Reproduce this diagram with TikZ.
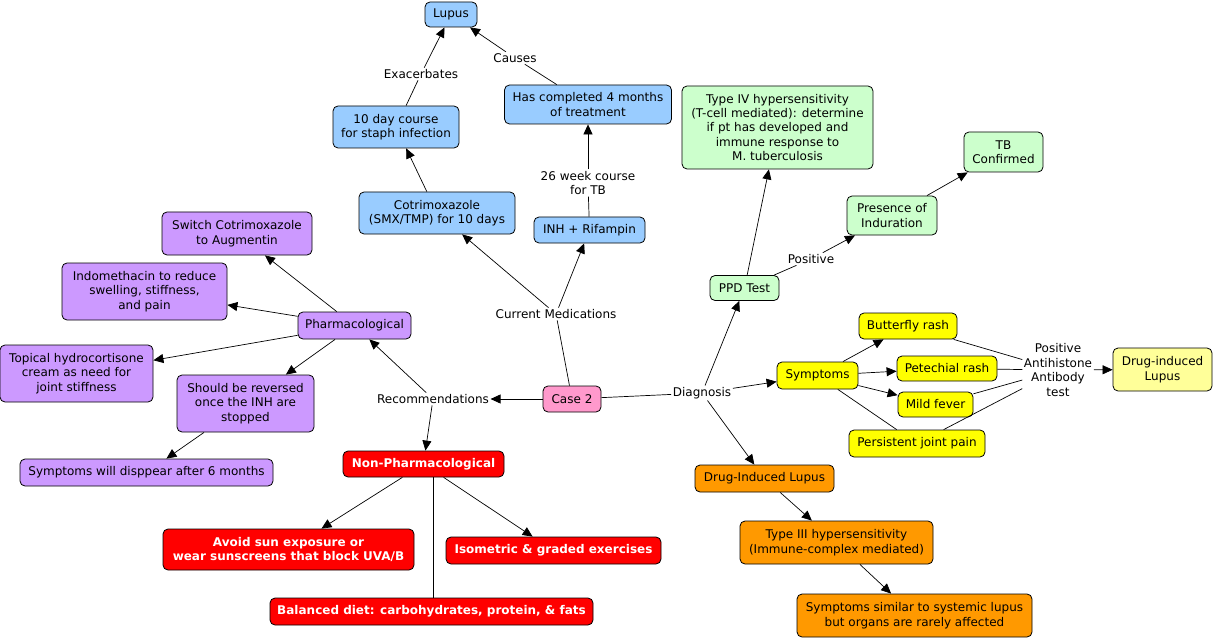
\documentclass[tikz,border=0pt]{standalone}
\usepackage{fontspec}
\setmainfont{DejaVu Sans}
\usepackage{xcolor}
\usetikzlibrary{arrows.meta, positioning}

\definecolor{medblue}{HTML}{99CCFF}
\definecolor{testgreen}{HTML}{CCFFCC}
\definecolor{pharmpurple}{HTML}{CC99FF}
\definecolor{casepink}{HTML}{FF99CC}
\definecolor{nonred}{HTML}{FF0000}
\definecolor{symyellow}{HTML}{FFFF00}
\definecolor{lightyellow}{HTML}{FFFF99}
\definecolor{lupusorange}{HTML}{FF9900}

\begin{document}
\begin{tikzpicture}[x=1pt, y=-1pt, >={Triangle[length=10pt,width=9pt]},
  concept/.style={rectangle, draw, rounded corners=5pt, align=center, inner sep=2pt, line width=0.8pt, font=\fontsize{12}{14.4}\selectfont},
  med/.style={concept, fill=medblue},
  test/.style={concept, fill=testgreen},
  pharm/.style={concept, fill=pharmpurple},
  nonpharm/.style={concept, fill=nonred, text=white, font=\fontsize{12}{14.4}\selectfont\bfseries},
  sym/.style={concept, fill=symyellow},
  dil/.style={concept, fill=lupusorange},
  phrase/.style={fill=white, inner sep=1.5pt, align=center, font=\fontsize{12}{14.4}\selectfont},
  line/.style={draw, line width=0.7pt},
  arrow/.style={line, ->}]

  \useasboundingbox (0,0) rectangle (1215,639);

  % medications
  \node [med, minimum width=52, minimum height=25] (lupus) at (451,14.5) {Lupus};
  \node [med, minimum width=126, minimum height=42] (staph) at (396,127) {10 day course\\for staph infection};
  \node [med, minimum width=167, minimum height=39] (completed) at (588,104.5) {Has completed 4 months\\of treatment};
  \node [med, minimum width=156, minimum height=42] (cotri) at (437,213) {Cotrimoxazole\\(SMX/TMP) for 10 days};
  \node [med, minimum width=111, minimum height=26] (inh) at (589.5,230) {INH + Rifampin};

  % PPD test
  \node [test, minimum width=191, minimum height=83] (typefour) at (777.5,127.5) {Type IV hypersensitivity\\(T-cell mediated): determine\\if pt has developed and\\immune response to\\M. tuberculosis};
  \node [test, minimum width=79, minimum height=40] (tbconf) at (1003.5,152) {TB\\Confirmed};
  \node [test, minimum width=90, minimum height=39] (indur) at (892,215.5) {Presence of\\Induration};
  \node [test, minimum width=69, minimum height=25] (ppd) at (744.5,288) {PPD Test};

  % pharmacological
  \node [pharm, minimum width=150, minimum height=43] (switch) at (237,233.5) {Switch Cotrimoxazole\\to Augmentin};
  \node [pharm, minimum width=165, minimum height=57] (indo) at (144.5,291.5) {Indomethacin to reduce\\swelling, stiffness,\\and pain};
  \node [pharm, minimum width=113, minimum height=27] (pharm) at (354.5,325.5) {Pharmacological};
  \node [pharm, minimum width=153, minimum height=57] (topical) at (76.5,373.5) {Topical hydrocortisone\\cream as need for\\joint stiffness};
  \node [pharm, minimum width=137, minimum height=57] (reversed) at (245.5,403.5) {Should be reversed\\once the INH are\\stopped};
  \node [pharm, minimum width=253, minimum height=27] (disappear) at (146.5,472.5) {Symptoms will disppear after 6 months};

  \node [concept, fill=casepink, minimum width=58, minimum height=26] (case) at (572,399) {Case 2};

  % non-pharmacological
  \node [nonpharm, minimum width=161, minimum height=26] (nonpharm) at (423.5,464) {Non-Pharmacological};
  \node [nonpharm, minimum width=251, minimum height=41] (avoid) at (288.5,549.5) {Avoid sun exposure or\\wear sunscreens that block UVA/B};
  \node [nonpharm, minimum width=215, minimum height=27] (iso) at (553.5,550.5) {Isometric \& graded exercises};
  \node [nonpharm, minimum width=323, minimum height=27] (diet) at (431.5,611.5) {Balanced diet: carbohydrates, protein, \& fats};

  % symptoms
  \node [sym, minimum width=98, minimum height=26] (butterfly) at (908,326) {Butterfly rash};
  \node [sym, minimum width=81, minimum height=27] (symptoms) at (817.5,375.5) {Symptoms};
  \node [sym, minimum width=100, minimum height=25] (petechial) at (947,368.5) {Petechial rash};
  \node [sym, minimum width=75, minimum height=25] (fever) at (935.5,404.5) {Mild fever};
  \node [sym, minimum width=136, minimum height=27] (joint) at (917,443.5) {Persistent joint pain};
  \node [concept, fill=lightyellow, minimum width=99, minimum height=43] (induced) at (1162.5,369.5) {Drug-induced\\Lupus};

  % drug-induced lupus
  \node [dil, minimum width=139, minimum height=27] (dil) at (764.5,478.5) {Drug-Induced Lupus};
  \node [dil, minimum width=193, minimum height=43] (typethree) at (836.5,542.5) {Type III hypersensitivity\\(Immune-complex mediated)};
  \node [dil, minimum width=235, minimum height=43] (similar) at (914.5,615.5) {Symptoms similar to systemic lupus\\but organs are rarely affected};

  % linking phrases
  \node [phrase] (exac) at (421,74) {Exacerbates};
  \node [phrase] (causes) at (515,58) {Causes};
  \node [phrase] (course) at (588,183) {26 week course\\for TB};
  \node [phrase] (current) at (556,314) {Current Medications};
  \node [phrase] (recom) at (433,399) {Recommendations};
  \node [phrase] (diag) at (702,393) {Diagnosis};
  \node [phrase] (positive) at (811,259) {Positive};
  \node [phrase] (antibody) at (1058,370) {Positive\\Antihistone\\Antibody\\test};

  % connections
  \path [line] (staph) -- (exac);
  \path [arrow] (exac) -- (lupus);
  \path [line] (completed) -- (causes);
  \path [arrow] (causes) -- (lupus);
  \path [arrow] (cotri) -- (staph);
  \path [line] (inh) -- (course);
  \path [arrow] (course) -- (completed);

  \path [line] (case) -- (current);
  \path [arrow] (current) -- (cotri);
  \path [arrow] (current) -- (inh);

  \path [arrow] (case) -- (recom);
  \path [arrow] (recom) -- (pharm);
  \path [arrow] (recom) -- (nonpharm);
  \path [arrow] (pharm) -- (switch);
  \path [arrow] (pharm) -- (indo);
  \path [arrow] (pharm) -- (topical);
  \path [arrow] (pharm) -- (reversed);
  \path [arrow] (reversed) -- (disappear);
  \path [arrow] (nonpharm) -- (avoid);
  \path [arrow] (nonpharm) -- (iso);
  \path [line] ([xshift=9.5pt]nonpharm.south) -- ([xshift=1.5pt]diet.north);

  \path [line] (case) -- (diag);
  \path [arrow] (diag) -- (ppd);
  \path [arrow] (diag) -- (symptoms);
  \path [arrow] (diag) -- (dil);
  \path [arrow] (ppd) -- (typefour);
  \path [line] (ppd) -- (positive);
  \path [arrow] (positive) -- (indur);
  \path [arrow] (indur) -- (tbconf);

  \path [arrow] (symptoms) -- (butterfly);
  \path [arrow] (symptoms) -- (petechial);
  \path [arrow] (symptoms) -- (fever);
  \path [line] (symptoms) -- (joint);
  \path [line] (butterfly) -- (antibody);
  \path [line] (petechial) -- (antibody);
  \path [line] (fever) -- (antibody);
  \path [line] (joint) -- (antibody);
  \path [arrow] (antibody) -- (induced);

  \path [arrow] (dil) -- (typethree);
  \path [arrow] (typethree) -- (similar);
\end{tikzpicture}
\end{document}
